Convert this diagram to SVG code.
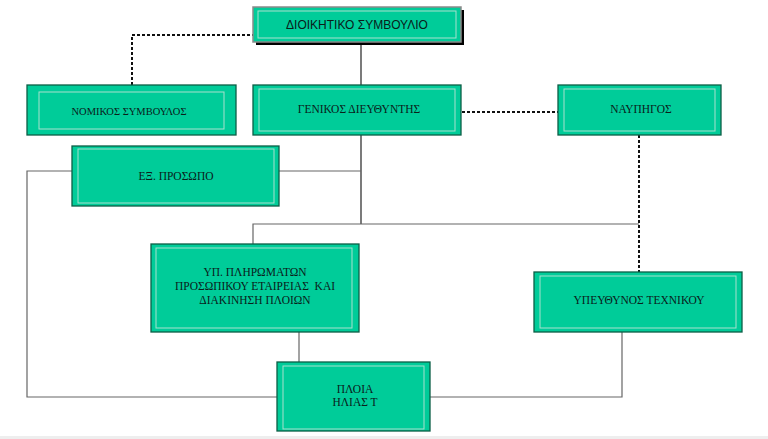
<svg xmlns="http://www.w3.org/2000/svg" width="768" height="439" viewBox="0 0 768 439">
<style>
.box{fill:#00CC99;stroke:#0B5E45;stroke-width:1.3}
.inner{fill:none;stroke:#A8E0CE;stroke-width:1}
.t{font-family:"Liberation Serif","Times New Roman",serif;font-size:11.5px;fill:#0A2019;text-anchor:middle}
.ts{font-family:"Liberation Sans",Arial,sans-serif;font-size:12px;fill:#0A2019;text-anchor:middle}
.ln{fill:none;stroke:#666;stroke-width:1.2}
.lk{fill:none;stroke:#222;stroke-width:1.2}
.dt{fill:none;stroke:#111;stroke-width:2;stroke-dasharray:3 2}
</style>
<rect x="0" y="0" width="768" height="439" fill="#fff"/>
<rect x="0" y="436" width="768" height="3" fill="#EEEEEE"/>
<g id="connectors">
<path class="dt" d="M132,85 V35 H253"/>
<path class="dt" d="M462,112 H558"/>
<path class="dt" d="M639,135 V272"/>
<path class="lk" d="M361,45 V85"/>
<path class="lk" d="M361,135 V224"/>
<path class="ln" d="M253,244 V224 H639"/>
<path class="ln" d="M279,171 H361"/>
<path class="ln" d="M72,171 H27 V397 H277"/>
<path class="ln" d="M299,332 V362"/>
<path class="ln" d="M430,397 H622 V332"/>
</g>
<g id="board">
<rect x="256" y="10" width="208" height="35" fill="#000"/>
<rect x="253" y="7" width="208" height="35" fill="#00CC99" stroke="#8A8A8A" stroke-width="1.5"/>
<rect x="258" y="11" width="198" height="27" class="inner"/>
<text class="ts" x="357" y="29">ΔΙΟΙΚΗΤΙΚΟ ΣΥΜΒΟΥΛΙΟ</text>
</g>
<g id="nomikos">
<rect class="box" x="27" y="85" width="209" height="50"/>
<rect class="inner" x="39" y="92" width="185" height="37"/>
<text class="t" x="129" y="114.5" style="font-size:10.5px">ΝΟΜΙΚΟΣ ΣΥΜΒΟΥΛΟΣ</text>
</g>
<g id="genikos">
<rect class="box" x="253" y="85" width="208" height="50"/>
<rect class="inner" x="259" y="89" width="196" height="42"/>
<text class="t" x="359" y="113">ΓΕΝΙΚΟΣ ΔΙΕΥΘΥΝΤΗΣ</text>
</g>
<g id="naupigos">
<rect class="box" x="558" y="85" width="163" height="50"/>
<rect class="inner" x="564" y="89" width="151" height="42"/>
<text class="t" x="641" y="113">ΝΑΥΠΗΓΟΣ</text>
</g>
<g id="exprosopo">
<rect class="box" x="72" y="146" width="207" height="60"/>
<rect class="inner" x="78" y="149" width="196" height="54"/>
<text class="t" x="176" y="180">ΕΞ. ΠΡΟΣΩΠΟ</text>
</g>
<g id="yp">
<rect class="box" x="151" y="244" width="208" height="88"/>
<rect class="inner" x="156" y="248" width="196" height="80"/>
<text class="t" x="255" y="276">ΥΠ. ΠΛΗΡΩΜΑΤΩΝ</text>
<text class="t" x="255" y="290" xml:space="preserve">ΠΡΟΣΩΠΙΚΟΥ ΕΤΑΙΡΕΙΑΣ  ΚΑΙ</text>
<text class="t" x="255" y="304">ΔΙΑΚΙΝΗΣΗ ΠΛΟΙΩΝ</text>
</g>
<g id="ypeuthynos">
<rect class="box" x="534" y="272" width="208" height="60"/>
<rect class="inner" x="540" y="276" width="196" height="52"/>
<text class="t" x="639" y="304">ΥΠΕΥΘΥΝΟΣ ΤΕΧΝΙΚΟΥ</text>
</g>
<g id="ploia">
<rect class="box" x="277" y="362" width="153" height="69"/>
<rect class="inner" x="283" y="366" width="141" height="63"/>
<text class="t" x="355" y="393">ΠΛΟΙΑ</text>
<text class="t" x="355" y="406">ΗΛΙΑΣ Τ</text>
</g>
</svg>
